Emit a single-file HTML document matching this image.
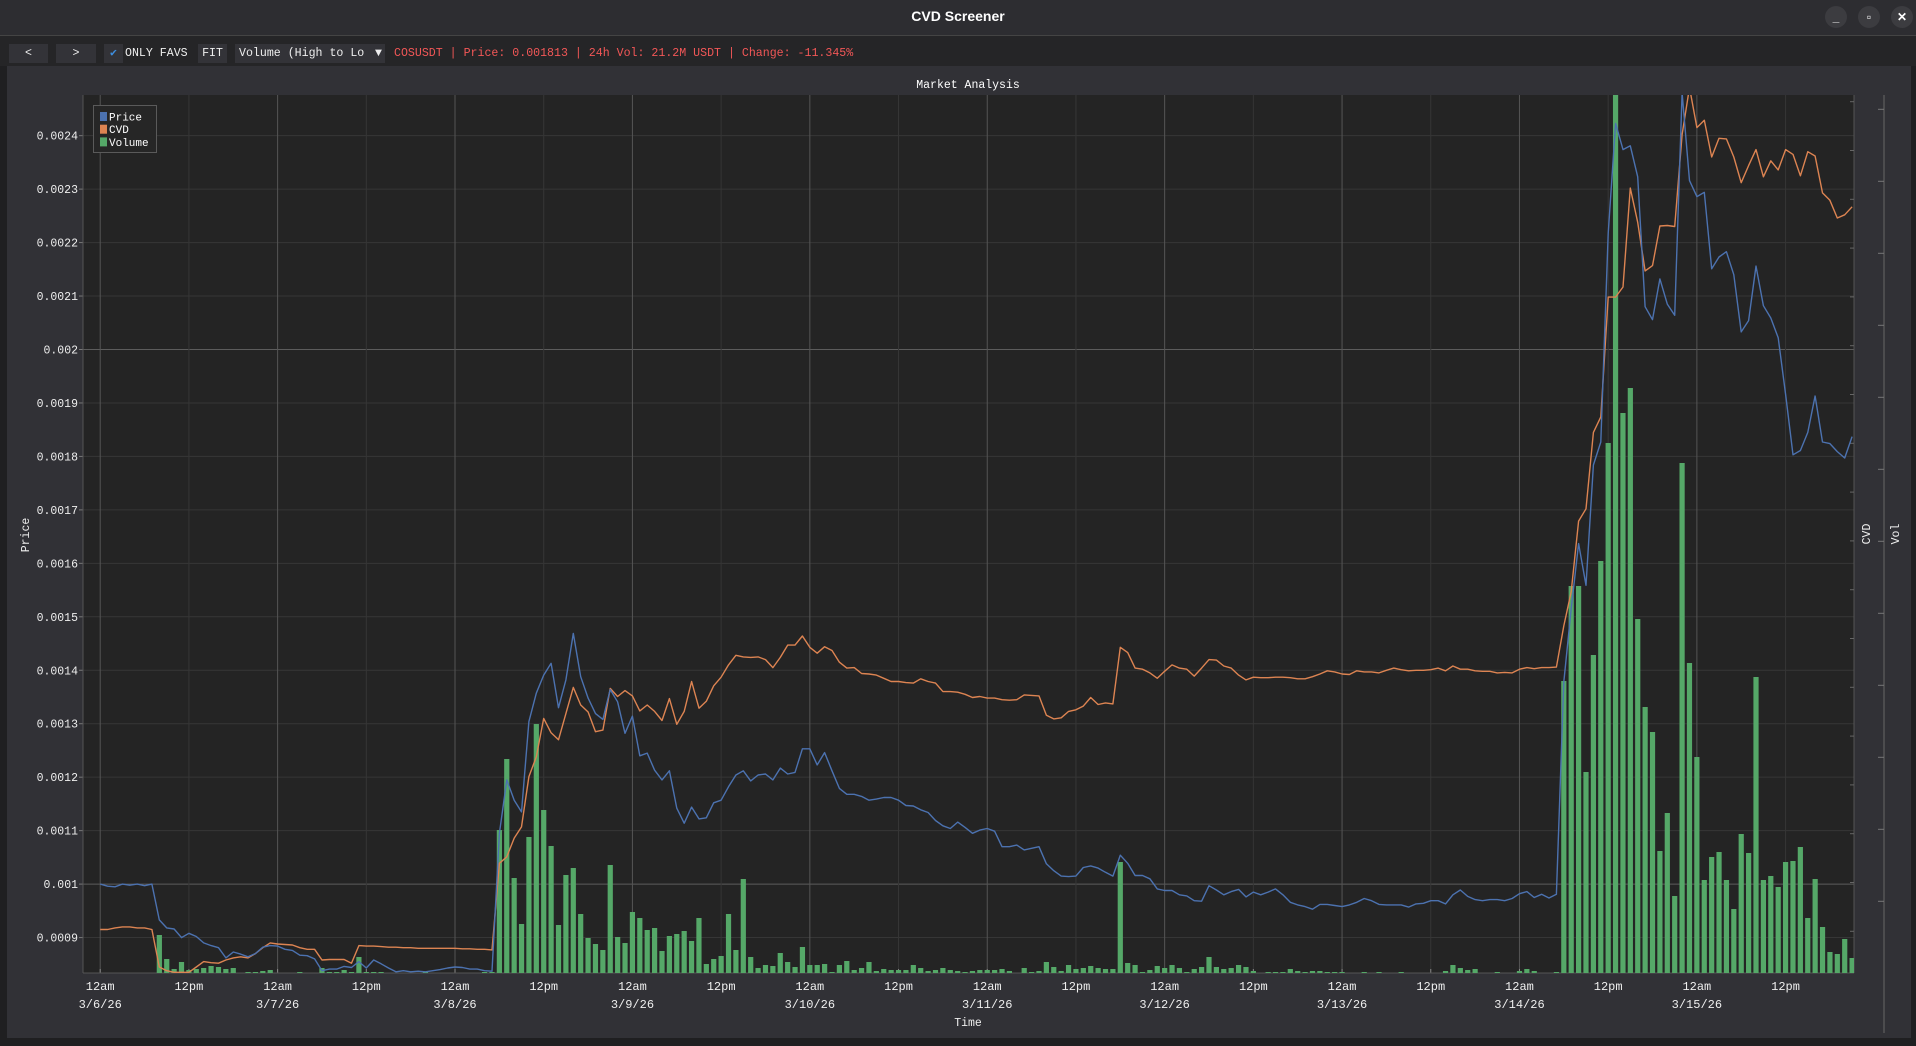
<!DOCTYPE html>
<html><head><meta charset="utf-8"><title>CVD Screener</title>
<style>
html,body{margin:0;padding:0;background:#1f1f21;width:1916px;height:1046px;overflow:hidden;font-family:"Liberation Mono",monospace;}
#titlebar{position:absolute;left:0;top:0;width:1916px;height:35px;background:#2d2d31;border-bottom:1px solid #444;}
#title{position:absolute;left:0;width:1916px;top:8px;text-align:center;color:#fff;font:bold 14px "Liberation Sans",sans-serif;}
.wbtn{position:absolute;top:6px;width:22px;height:22px;border-radius:11px;background:#3c3c40;color:#fff;font:bold 12px "Liberation Sans",sans-serif;text-align:center;line-height:22px;}
#toolbar{position:absolute;left:0;top:36px;width:1916px;height:30px;background:#252527;}
.tb{position:absolute;top:8px;height:19px;background:#333338;color:#eee;font-size:11.6px;line-height:19px;text-align:center;}
#status{position:absolute;left:394px;top:8px;line-height:19px;color:#f25757;font-size:11.6px;white-space:pre;}
svg{position:absolute;left:0;top:0;}
</style></head><body>
<div id="titlebar">
  <div id="title">CVD Screener</div>
  <div class="wbtn" style="left:1825px">_</div>
  <div class="wbtn" style="left:1858px">▫</div>
  <div class="wbtn" style="left:1891px">✕</div>
</div>
<div id="toolbar">
  <div class="tb" style="left:9px;width:39px">&lt;</div>
  <div class="tb" style="left:56px;width:40px">&gt;</div>
  <div class="tb" style="left:104px;width:19px;color:#3d8ee0;font-weight:bold">✔</div>
  <div class="tb" style="left:125px;width:68px;background:none;text-align:left">ONLY FAVS</div>
  <div class="tb" style="left:198px;width:29px">FIT</div>
  <div class="tb" style="left:235px;width:150px;text-align:left;padding-left:4px;box-sizing:border-box;overflow:hidden;white-space:nowrap">Volume (High to Lo<span style="position:absolute;right:3px;top:0;background:#333338">▼</span></div>
  <div id="status">COSUSDT | Price: 0.001813 | 24h Vol: 21.2M USDT | Change: -11.345%</div>
</div>
<svg id="chart" width="1916" height="1046" style="top:0"></svg>
<script>
const priceTickVals=[2400,2300,2200,2100,2000,1900,1800,1700,1600,1500,1400,1300,1200,1100,1000,900];
const priceTickLabels=['0.0024','0.0023','0.0022','0.0021','0.002','0.0019','0.0018','0.0017','0.0016','0.0015','0.0014','0.0013','0.0012','0.0011','0.001','0.0009'];
const dayLabels=['3/6/26','3/7/26','3/8/26','3/9/26','3/10/26','3/11/26','3/12/26','3/13/26','3/14/26','3/15/26'];
const price=[1000,996,995,1000,998,1000,997,1000,933,918,916,900,908,902,890,885,881,862,873,869,864,870,882,885,884,878,876,867,866,860,838,841,841,846,844,855,843,858,851,843,836,838,836,837,836,838,840,843,845,844,841,841,838,837,
1095,1195,1157,1135,1304,1357,1391,1413,1330,1382,1469,1388,1348,1319,1308,1364,1341,1282,1314,1240,1245,1213,1195,1212,1142,1114,1144,1122,1124,1152,1157,1182,1204,1212,1193,1204,1206,1195,1217,1206,1209,1253,1253,1223,1246,1212,1179,1168,1168,1164,1157,1159,1162,1162,1157,1147,1146,1139,1134,1119,
1109,1104,1116,1106,1095,1101,1104,1099,1070,1070,1073,1064,1067,1070,1038,1025,1015,1014,1015,1031,1034,1030,1022,1015,1054,1039,1016,1016,1010,991,988,988,980,978,969,968,997,989,980,986,990,976,985,980,985,991,980,966,961,958,953,962,962,960,958,961,966,973,969,962,961,
961,961,957,963,964,969,969,963,980,989,977,971,969,971,971,969,973,982,986,975,981,974,981,
1378,1515,1637,1559,1784,1827,2217,2423,2374,2381,2323,2080,2056,2132,2085,2064,2480,2316,2286,2294,2151,2173,2183,2140,2033,2054,2156,2082,2059,2022,1916,1803,1811,1845,1913,1827,1824,1809,1797,1837];
const cvd=[915,915,918,920,920,918,918,915,845,838,835,835,835,845,855,853,852,858,862,864,862,870,881,890,888,887,886,881,878,878,858,859,859,859,852,885,884,884,883,882,882,881,881,880,880,880,880,880,880,879,879,878,878,877,
1039,1051,1086,1107,1201,1238,1310,1283,1270,1319,1368,1335,1322,1285,1288,1366,1351,1362,1352,1324,1335,1323,1306,1347,1299,1323,1379,1329,1342,1371,1387,1410,1428,1425,1424,1425,1420,1405,1424,1447,1447,1464,1443,1432,1444,1437,1415,1404,1405,1394,1393,1391,1385,1379,1379,1377,1376,1384,1379,1376,
1360,1360,1359,1355,1349,1351,1348,1348,1345,1344,1345,1354,1353,1352,1316,1309,1311,1323,1326,1333,1349,1336,1339,1337,1443,1433,1404,1402,1395,1385,1398,1410,1404,1402,1389,1404,1420,1419,1408,1404,1391,1382,1387,1386,1386,1387,1387,1386,1384,1384,1388,1393,1399,1397,1393,1392,1399,1397,1397,1395,1400,
1404,1401,1399,1400,1400,1401,1404,1399,1408,1402,1402,1399,1398,1398,1395,1396,1395,1402,1405,1403,1405,1405,1406,
1483,1547,1679,1702,1845,1874,2098,2098,2117,2302,2238,2147,2157,2231,2232,2230,2402,2490,2415,2429,2360,2395,2394,2360,2312,2344,2374,2323,2353,2336,2374,2365,2325,2370,2362,2293,2279,2246,2252,2267];
const volume=[0,0,0,0,0,0,0,0,38,14,4,11,3,4,5,7,6,4,5,0,1,1,2,3,0,0,0,1,0,0,5,1,1,3,1,16,1,1,1,0,0,0,0,0,1,0,0,0,0,0,0,0,1,1,
143,214,95,49,136,249,163,127,48,98,105,59,35,29,23,108,36,30,61,55,43,45,22,37,39,42,32,55,9,14,17,59,23,94,16,5,8,7,20,11,6,26,8,8,9,1,8,12,3,5,11,2,4,3,3,3,8,5,2,3,
5,3,2,1,2,3,3,3,4,2,0,5,1,2,11,6,2,8,4,5,7,5,4,4,111,10,8,1,3,7,5,8,5,1,4,6,16,6,4,5,8,6,2,0,1,1,1,4,2,1,2,2,1,1,1,
0,0,1,0,1,0,0,1,0,0,0,0,0,2,8,5,3,4,0,0,1,0,0,2,4,2,0,0,1,
292,387,387,201,318,412,530,950,560,585,354,266,241,122,160,77,510,310,216,93,116,121,93,64,139,120,296,93,97,86,111,112,126,55,94,46,21,19,34,15];

const NS='http://www.w3.org/2000/svg';
const svg=document.getElementById('chart');
const PL=83,PR=1854,PT=95,PB=973;
const X0=100.2,HOUR=7.392,DAY=HOUR*24;
const VOLMAX=878;
function xH(h){return X0+h*HOUR;}
function yP(v){return 349.5-(v-2000)*0.5346;}
function yV(v){return PB-v/VOLMAX*(PB-PT);}
function mk(tag,attrs,parent){const e=document.createElementNS(NS,tag);for(const k in attrs)e.setAttribute(k,attrs[k]);(parent||svg).appendChild(e);return e;}

const panel=mk('rect',{x:7,y:66,width:1904,height:972,fill:'#313136'});


const ttl=mk('text',{x:968,y:88,fill:'#fff','font-size':'11.5','text-anchor':'middle','font-family':'Liberation Mono, monospace'});
ttl.textContent='Market Analysis';


const plot=mk('rect',{x:PL,y:PT,width:PR-PL,height:PB-PT,fill:'#242424'});


const defs=mk('defs',{});
const cp=mk('clipPath',{id:'clip'},defs);
mk('rect',{x:PL,y:PT,width:PR-PL,height:PB-PT},cp);

// horizontal grid + y ticks
priceTickVals.forEach((v,i)=>{
  const y=yP(v);
  const major=(v===2000||v===1000);
  const g=mk('line',{x1:PL,x2:PR,y1:y,y2:y,stroke:major?'#5c5c5c':'#363636','stroke-width':1});
  
  
  mk('line',{x1:PL-4,x2:PL,y1:y,y2:y,stroke:'#777'});
  const t=mk('text',{x:PL-5,y:y+4,fill:'#eee','font-size':'11.5','text-anchor':'end','font-family':'Liberation Mono, monospace'});
  t.textContent=priceTickLabels[i];
  
  
});
// minor grid between 0.0024 and top etc
// vertical grid
for(let k=0;k<20;k++){
  const h=k*12;const x=xH(h);
  if(x>PR)break;
  const major=k%2===0;
  const g=mk('line',{x1:x,x2:x,y1:PT,y2:PB,stroke:major?'#555':'#363636','stroke-width':1});
  
  
  mk('line',{x1:x,x2:x,y1:PB-4,y2:PB,stroke:'#888'});
  const t=mk('text',{x:x,y:990,fill:'#eee','font-size':'12','text-anchor':'middle','font-family':'Liberation Mono, monospace'});
  t.textContent=major?'12am':'12pm';
  
  
  if(major){
    const d=mk('text',{x:x,y:1008,fill:'#eee','font-size':'12','text-anchor':'middle','font-family':'Liberation Mono, monospace'});
    d.textContent=dayLabels[k/2];
    
    
  }
}
// axes lines
mk('line',{x1:PL,x2:PL,y1:PT,y2:PB,stroke:'#555'});
mk('line',{x1:PL,x2:PR,y1:PB,y2:PB,stroke:'#555'});
mk('line',{x1:PR,x2:PR,y1:PT,y2:PB,stroke:'#555'});
for(let y=101.7;y<PB;y+=48.8){mk('line',{x1:PR-4,x2:PR,y1:y,y2:y,stroke:'#666'});}
mk('line',{x1:1884,x2:1884,y1:PT,y2:PB+60,stroke:'#666'});
for(let y=109.3;y<PB;y+=72){mk('line',{x1:1878,x2:1884,y1:y,y2:y,stroke:'#777'});}

const gV=mk('g',{'clip-path':'url(#clip)'});


volume.forEach((v,i)=>{
  if(v<=0)return;
  const y=yV(v);
  const r=mk('rect',{x:xH(i)-2.6,y:y,width:5.2,height:PB-y,fill:'#55a868'},gV);
  
  
});
function line(arr,color,name){
  const pts=arr.map((v,i)=>xH(i).toFixed(1)+','+yP(v).toFixed(1)).join(' ');
  const p=mk('polyline',{points:pts,fill:'none',stroke:color,'stroke-width':1.4,'clip-path':'url(#clip)','stroke-linejoin':'round'});
  
  
}
line(cvd,'#dd8452','cvd-line');
line(price,'#4c72b0','price-line');

// legend
const lg=mk('g',{});


mk('rect',{x:93.5,y:105.5,width:63,height:47,fill:'#262626',stroke:'#5a5a5a'},lg);
[['Price','#4c72b0'],['CVD','#dd8452'],['Volume','#55a868']].forEach((e,i)=>{
  const y=112+i*12.7;
  mk('rect',{x:100,y:y,width:7,height:9,fill:e[1]},lg);
  const t=mk('text',{x:109,y:y+8.5,fill:'#fff','font-size':'11','font-family':'Liberation Mono, monospace'},lg);
  t.textContent=e[0];
  
  
});
// axis titles
const yt=mk('text',{x:0,y:0,fill:'#eee','font-size':'11.5','text-anchor':'middle','font-family':'Liberation Mono, monospace',transform:'translate(29,535) rotate(-90)'});
yt.textContent='Price';


const xt=mk('text',{x:968,y:1026,fill:'#eee','font-size':'11.5','text-anchor':'middle','font-family':'Liberation Mono, monospace'});
xt.textContent='Time';


const ct=mk('text',{x:0,y:0,fill:'#eee','font-size':'11.5','text-anchor':'middle','font-family':'Liberation Mono, monospace',transform:'translate(1870,534) rotate(-90)'});
ct.textContent='CVD';


const vt=mk('text',{x:0,y:0,fill:'#eee','font-size':'11.5','text-anchor':'middle','font-family':'Liberation Mono, monospace',transform:'translate(1899,534) rotate(-90)'});
vt.textContent='Vol';


</script>
</body></html>
